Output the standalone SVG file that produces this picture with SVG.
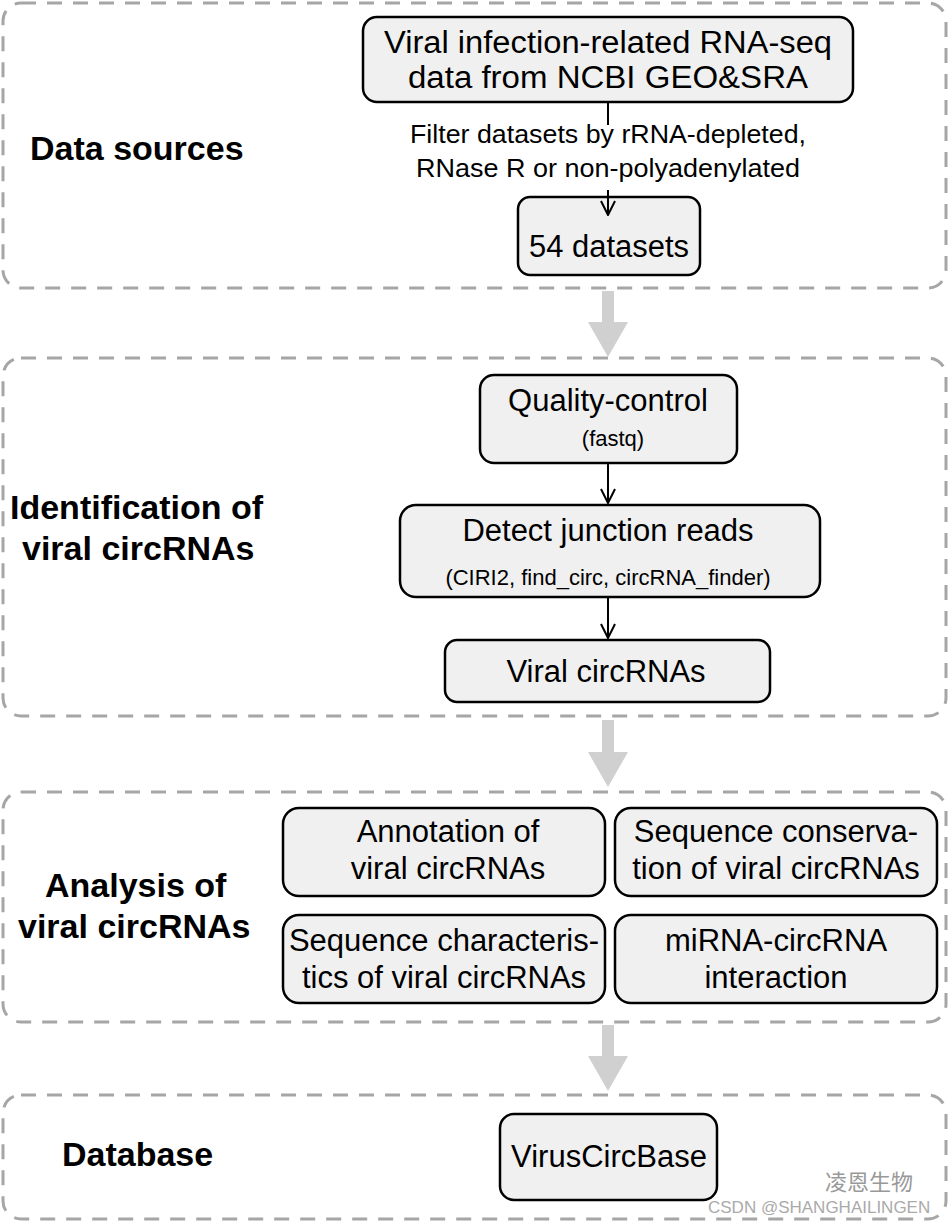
<svg xmlns="http://www.w3.org/2000/svg" width="950" height="1222" viewBox="0 0 950 1222">
<style>
.sec{fill:none;stroke:#a6a6a6;stroke-width:3;stroke-dasharray:15 11}
.node rect{fill:#f0f0f0;stroke:#000;stroke-width:2.5}
text{font-family:"Liberation Sans",Arial,sans-serif;fill:#000}
.t{font-size:31px;text-anchor:middle}
.s{font-size:25px;text-anchor:middle}
.h{font-size:34px;font-weight:bold}
.c line{stroke:#000;stroke-width:2}
.big{fill:#d0d0d0}
</style>
<defs>
<marker id="oa" markerWidth="16" markerHeight="16" refX="15" refY="8" orient="auto" markerUnits="userSpaceOnUse" viewBox="0 0 16 16">
<path d="M1,1 L15,8 L1,15" fill="none" stroke="#000" stroke-width="2"/>
</marker>
</defs>
<g id="sections">
<rect class="sec" x="3" y="3" width="943" height="285" rx="18"/>
<rect class="sec" x="3" y="358" width="943" height="358" rx="18"/>
<rect class="sec" x="3" y="792" width="943" height="230" rx="18"/>
<rect class="sec" x="3" y="1095" width="943" height="124" rx="18"/>
</g>
<g id="labels">
<text class="h" x="30" y="160">Data sources</text>
<text class="h" x="10" y="519">Identification of</text>
<text class="h" x="22" y="560">viral circRNAs</text>
<text class="h" x="45" y="897">Analysis of</text>
<text class="h" x="18" y="938">viral circRNAs</text>
<text class="h" x="62" y="1166">Database</text>
</g>
<g id="n1" class="node"><rect x="363" y="17" width="490" height="85" rx="14"/>
<text class="t" x="608" y="53" textLength="448" lengthAdjust="spacingAndGlyphs">Viral infection-related RNA-seq</text>
<text class="t" x="608" y="88" textLength="400" lengthAdjust="spacingAndGlyphs">data from NCBI GEO&amp;SRA</text></g>
<g id="n2" class="node"><rect x="518" y="197" width="182" height="78" rx="12"/>
<text class="t" x="609" y="257" textLength="160" lengthAdjust="spacingAndGlyphs">54 datasets</text></g>
<g id="n3" class="node"><rect x="480" y="375" width="257" height="88" rx="14"/>
<text class="t" x="608" y="411">Quality-control</text>
<text class="s" x="613" y="446" style="font-size:22px">(fastq)</text></g>
<g id="n4" class="node"><rect x="400" y="505" width="420" height="92" rx="16"/>
<text class="t" x="608" y="541">Detect junction reads</text>
<text class="s" x="608" y="585" style="font-size:22px">(CIRI2, find_circ, circRNA_finder)</text></g>
<g id="n5" class="node"><rect x="445" y="640" width="325" height="62" rx="12"/>
<text class="t" x="606" y="682">Viral circRNAs</text></g>
<g id="n6" class="node"><rect x="283" y="808" width="322" height="88" rx="16"/>
<text class="t" x="448" y="842">Annotation of</text>
<text class="t" x="448" y="879">viral circRNAs</text></g>
<g id="n7" class="node"><rect x="615" y="808" width="322" height="88" rx="16"/>
<text class="t" x="776" y="842">Sequence conserva-</text>
<text class="t" x="776" y="879">tion of viral circRNAs</text></g>
<g id="n8" class="node"><rect x="283" y="915" width="322" height="88" rx="16"/>
<text class="t" x="444" y="951">Sequence characteris-</text>
<text class="t" x="444" y="988">tics of viral circRNAs</text></g>
<g id="n9" class="node"><rect x="615" y="915" width="322" height="88" rx="16"/>
<text class="t" x="776" y="951">miRNA-circRNA</text>
<text class="t" x="776" y="988">interaction</text></g>
<g id="n10" class="node"><rect x="500" y="1114" width="217" height="86" rx="14"/>
<text class="t" x="609" y="1167">VirusCircBase</text></g>
<g id="connectors" class="c">
<line x1="608" y1="102" x2="608" y2="125"/>
<text class="s" x="608" y="143" textLength="396" lengthAdjust="spacingAndGlyphs">Filter datasets by rRNA-depleted,</text>
<text class="s" x="608" y="177" textLength="384" lengthAdjust="spacingAndGlyphs">RNase R or non-polyadenylated</text>
<line x1="608" y1="190" x2="608" y2="215" marker-end="url(#oa)"/>
<line x1="608" y1="463" x2="608" y2="503" marker-end="url(#oa)"/>
<line x1="608" y1="597" x2="608" y2="638" marker-end="url(#oa)"/>
<path class="big" d="M602,291 H614 V322 H628 L608,357 L588,322 H602 Z"/>
<path class="big" d="M602,720 H614 V752 H628 L608,787 L588,752 H602 Z"/>
<path class="big" d="M602,1025 H614 V1056 H628 L608,1091 L588,1056 H602 Z"/>
</g>
<g id="watermark">
<text x="825" y="1190" font-size="22" style="fill:#999;font-family:'Noto Sans CJK SC',sans-serif">凌恩生物</text>
<text x="708" y="1213" font-size="17" style="fill:#aaa">CSDN @SHANGHAILINGEN</text>
</g>
</svg>
